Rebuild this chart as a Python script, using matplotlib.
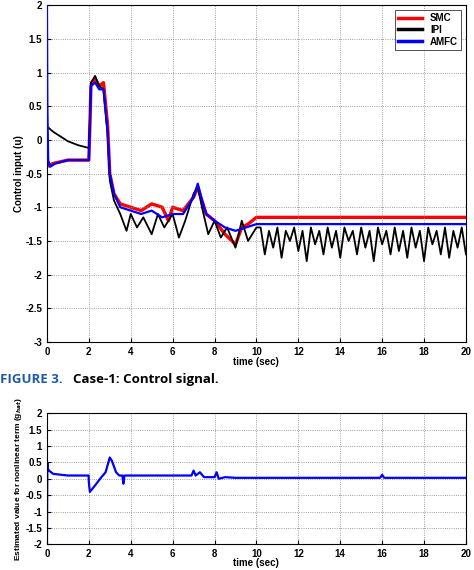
import matplotlib.pyplot as plt

plt.rcParams.update({
    "font.family": ["Liberation Sans", "DejaVu Sans"],
    "font.size": 7,
    "font.weight": "bold",
    "axes.labelweight": "bold",
    "axes.linewidth": 0.8,
    "xtick.direction": "in",
    "ytick.direction": "in",
    "xtick.major.size": 3,
    "ytick.major.size": 3,
})

# ---- top panel: control input ----
t_smc = [0, 0.05, 0.3, 1.0, 2.0, 2.05, 2.1, 2.3, 2.5, 2.7, 2.9, 3.0, 3.2, 3.5, 4.0, 4.5, 5.0,
         5.5, 5.8, 6.0, 6.5, 7.0, 7.2, 7.4, 7.6, 8.0, 8.5, 9.0, 9.3, 9.6, 10.0, 11, 14, 17, 20]
u_smc = [-0.4, -0.38, -0.35, -0.3, -0.3, 0.2, 0.8, 0.9, 0.8, 0.85, 0.2, -0.5, -0.8, -0.95, -1.0,
         -1.05, -0.95, -1.0, -1.2, -1.0, -1.05, -0.85, -0.7, -0.9, -1.1, -1.2, -1.4, -1.55, -1.3,
         -1.25, -1.15, -1.15, -1.15, -1.15, -1.15]

t_ipi = [0, 0.3, 1.0, 1.5, 2.0, 2.05, 2.1, 2.3, 2.5, 2.7, 2.9, 3.0, 3.2, 3.5, 3.8, 4.0, 4.3, 4.6,
         5.0, 5.3, 5.6, 6.0, 6.3, 6.6, 7.0, 7.2, 7.4, 7.7, 8.0, 8.3, 8.6, 9.0, 9.3, 9.6, 10.0]
u_ipi = [0.2, 0.12, -0.02, -0.08, -0.12, 0.3, 0.85, 0.95, 0.8, 0.75, 0.1, -0.6, -0.9, -1.1,
         -1.35, -1.1, -1.3, -1.15, -1.4, -1.1, -1.3, -1.1, -1.45, -1.2, -0.8, -0.7, -1.0, -1.4,
         -1.2, -1.45, -1.3, -1.6, -1.2, -1.5, -1.3]
# noisy tail after 10 s
t_tail = [10.2, 10.4, 10.6, 10.8, 11.0, 11.2, 11.4, 11.6, 11.8, 12.0, 12.2, 12.4, 12.6, 12.8,
          13.0, 13.2, 13.4, 13.6, 13.8, 14.0, 14.2, 14.4, 14.6, 14.8, 15.0, 15.2, 15.4, 15.6,
          15.8, 16.0, 16.2, 16.4, 16.6, 16.8, 17.0, 17.2, 17.4, 17.6, 17.8, 18.0, 18.2, 18.4,
          18.6, 18.8, 19.0, 19.2, 19.4, 19.6, 19.8, 20.0]
u_tail = [-1.3, -1.7, -1.35, -1.6, -1.3, -1.75, -1.35, -1.5, -1.3, -1.65, -1.35, -1.8, -1.3,
          -1.55, -1.35, -1.7, -1.3, -1.6, -1.35, -1.75, -1.3, -1.5, -1.35, -1.7, -1.3, -1.6,
          -1.35, -1.8, -1.3, -1.55, -1.35, -1.7, -1.3, -1.65, -1.35, -1.75, -1.3, -1.6, -1.35,
          -1.8, -1.3, -1.55, -1.35, -1.7, -1.3, -1.75, -1.35, -1.6, -1.3, -1.7]

t_amfc = [0, 0.02, 0.06, 0.15, 0.4, 1.0, 2.0, 2.05, 2.1, 2.3, 2.5, 2.7, 2.9, 3.0, 3.2, 3.5, 4.0,
          4.5, 5.0, 5.5, 6.0, 6.5, 7.0, 7.2, 7.4, 7.6, 8.0, 8.5, 9.0, 9.5, 10.0, 11, 14, 17, 20]
u_amfc = [2.0, 0.5, -0.3, -0.4, -0.35, -0.3, -0.3, 0.2, 0.8, 0.85, 0.75, 0.75, 0.1, -0.5, -0.8,
          -1.0, -1.05, -1.1, -1.05, -1.15, -1.1, -1.1, -0.85, -0.65, -0.9, -1.1, -1.2, -1.3,
          -1.35, -1.3, -1.25, -1.25, -1.25, -1.25, -1.25]

# ---- bottom panel: estimated nonlinear term ----
t_g = [0, 0.02, 0.05, 0.1, 0.3, 1.0, 1.99, 2.0, 2.05, 2.3, 2.6, 2.8, 3.0, 3.1, 3.3, 3.45, 3.6,
       3.65, 3.7, 4.0, 5.0, 6.0, 6.9, 7.0, 7.1, 7.3, 7.5, 8.0, 8.1, 8.2, 8.5, 9.0, 10.0, 12.0,
       14.0, 15.9, 16.0, 16.1, 18.0, 20.0]
g_hat = [-2.0, 0.5, 0.3, 0.25, 0.15, 0.1, 0.1, -0.1, -0.4, -0.2, 0.05, 0.2, 0.65, 0.55, 0.2,
         0.1, 0.1, -0.15, 0.1, 0.1, 0.1, 0.1, 0.1, 0.25, 0.1, 0.2, 0.05, 0.05, 0.2, 0.0, 0.05,
         0.03, 0.03, 0.03, 0.03, 0.03, 0.12, 0.03, 0.03, 0.03]

fig = plt.figure(figsize=(4.74, 5.7), dpi=100)
ax1 = fig.add_axes([0.099, 0.40, 0.884, 0.591])
ax1.plot(t_ipi + t_tail, u_ipi + u_tail, color="black", lw=1.3, label="IPI", zorder=2)
ax1.plot(t_smc, u_smc, color="red", lw=2.4, label="SMC", zorder=1)
ax1.plot(t_amfc, u_amfc, color="blue", lw=1.6, label="AMFC", zorder=3)
ax1.set_xlim(0, 20)
ax1.set_ylim(-3, 2)
ax1.set_xticks(range(0, 21, 2))
ax1.set_yticks([-3, -2.5, -2, -1.5, -1, -0.5, 0, 0.5, 1, 1.5, 2])
ax1.set_yticklabels(["-3", "-2.5", "-2", "-1.5", "-1", "-0.5", "0", "0.5", "1", "1.5", "2"])
ax1.grid(True, ls=":", color="gray", lw=0.6)
ax1.set_xlabel("time (sec)", labelpad=0)
ax1.set_ylabel("Control input (u)", labelpad=1)
h, l = ax1.get_legend_handles_labels()
order = [1, 0, 2]
leg = ax1.legend([h[i] for i in order], [l[i] for i in order], loc="upper right", fontsize=7,
                 handlelength=2.5, borderpad=0.3, labelspacing=0.2, fancybox=False,
                 edgecolor="black")
leg.get_frame().set_linewidth(0.6)
for ln in leg.get_lines():
    ln.set_linewidth(2.5)

fig.text(0.0, 0.335, "FIGURE 3.", color="#1f5aa6", fontsize=9.5, fontweight="bold",
         va="center", family="Open Sans")
fig.text(0.155, 0.335, "Case-1: Control signal.", color="black", fontsize=9.5,
         va="center", family="Open Sans", fontweight="bold")

ax2 = fig.add_axes([0.099, 0.045, 0.884, 0.23])
ax2.plot(t_g, g_hat, color="blue", lw=1.6)
ax2.set_xlim(0, 20)
ax2.set_ylim(-2, 2)
ax2.set_xticks(range(0, 21, 2))
ax2.set_yticks([-2, -1.5, -1, -0.5, 0, 0.5, 1, 1.5, 2])
ax2.set_yticklabels(["-2", "-1.5", "-1", "-0.5", "0", "0.5", "1", "1.5", "2"])
ax2.grid(True, ls=":", color="gray", lw=0.6)
ax2.set_xlabel("time (sec)", labelpad=-1)
ax2.set_ylabel("Estimated value for nonlinear term (g$_{hat}$)", fontsize=6, labelpad=1)

fig.savefig("out.png", dpi=100)
